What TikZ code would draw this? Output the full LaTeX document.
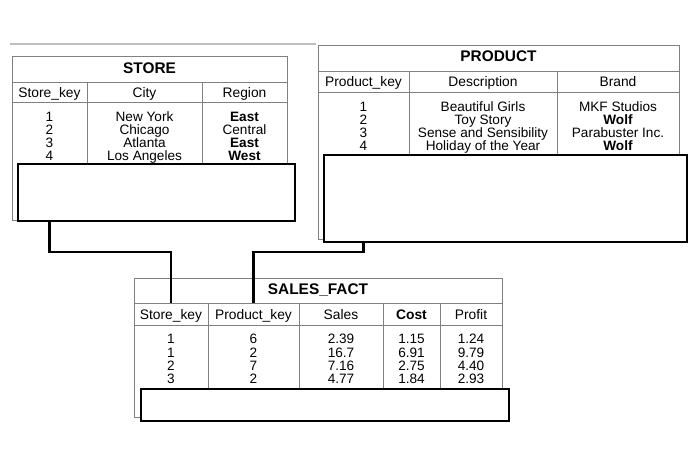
\documentclass[tikz,border=0pt]{standalone}
\usepackage{fontspec}
\setmainfont{Liberation Sans}
\usetikzlibrary{calc}

\tikzset{
  tbl/.style={draw=black!50, line width=0.9pt},
  blank/.style={draw=black, line width=1.6pt, fill=white, inner sep=0pt},
  link/.style={draw=black, line width=2.6pt},
  ttl/.style={font=\fontsize{15.4}{15.4}\selectfont\bfseries, inner sep=0pt},
  hdr/.style={font=\fontsize{13.8}{13.8}\selectfont, inner sep=0pt, text height=10pt, text depth=0pt},
  dat/.style={font=\fontsize{13.6}{13.6}\selectfont, inner sep=0pt, text height=9.8pt, text depth=2.8pt},
}

\begin{document}
\begin{tikzpicture}[x=1pt,y=-1pt]
\useasboundingbox[fill=white] (0,0) rectangle (700,453);
% page edge
\draw[black!25, line width=1.6pt] (10,44) -- (316,44);

% STORE
\draw[tbl] (12,56) rectangle (287,220);
\draw[tbl] (12,82) -- (287,82) (12,102) -- (287,102) (87,82) -- (87,220) (202,82) -- (202,220);
\node[ttl] (store) at (149.5,68) {STORE};
\node[hdr, minimum height=20pt] (ssk) at (49.5,92) {Store\_key};
\node[hdr, minimum height=20pt] (scity) at (144.5,92) {City};
\node[hdr, minimum height=20pt] (sreg) at (244.5,92) {Region};
\foreach \k/\c/\r [count=\i] in {1/New York/\textbf{East}, 2/Chicago/Central, 3/Atlanta/\textbf{East}, 4/Los Angeles/\textbf{West}}{
  \node[dat] (sk\i) at (49.5,105+13*\i) {\k};
  \node[dat] (sc\i) at (144.5,105+13*\i) {\c};
  \node[dat] (sr\i) at (244.5,105+13*\i) {\r};
}
\node[blank, anchor=north west, minimum width=277pt, minimum height=57pt] (sbox) at (17,163) {};

% PRODUCT
\draw[tbl] (318,45) rectangle (679,239);
\draw[tbl] (318,71) -- (679,71) (318,92) -- (679,92) (409,71) -- (409,239) (557,71) -- (557,239);
\node[ttl] (product) at (498.5,56) {PRODUCT};
\node[hdr, minimum height=21pt] (psk) at (363.5,81.5) {Product\_key};
\node[hdr, minimum height=21pt] (pdesc) at (483,81.5) {Description};
\node[hdr, minimum height=21pt] (pbrand) at (618,81.5) {Brand};
\foreach \k/\d/\b [count=\i] in {1/Beautiful Girls/MKF Studios, 2/Toy Story/\textbf{Wolf}, 3/Sense and Sensibility/Parabuster Inc., 4/Holiday of the Year/\textbf{Wolf}}{
  \node[dat] (pk\i) at (363.5,95+13*\i) {\k};
  \node[dat] (pd\i) at (483,95+13*\i) {\d};
  \node[dat] (pb\i) at (618,95+13*\i) {\b};
}
\node[blank, anchor=north west, minimum width=363pt, minimum height=87pt] (pbox) at (323,154) {};

% SALES_FACT
\draw[tbl] (134,278) rectangle (502,417);
\draw[tbl] (134,303) -- (502,303) (134,325) -- (502,325);
\foreach \cx in {208,299,383,440}{
  \draw[tbl] (\cx,303) -- (\cx,417);
}
\node[ttl] (sales) at (318,290) {SALES\_FACT};
\node[hdr, minimum height=22pt] (fsk) at (171,314) {Store\_key};
\node[hdr, minimum height=22pt] (fpk) at (253.5,314) {Product\_key};
\node[hdr, minimum height=22pt] (fsal) at (341,314) {Sales};
\node[hdr, minimum height=22pt] (fcost) at (411.5,314) {\textbf{Cost}};
\node[hdr, minimum height=22pt] (fprof) at (471,314) {Profit};
\foreach \s/\p/\a/\c/\f [count=\i] in {1/6/2.39/1.15/1.24, 1/2/16.7/6.91/9.79, 2/7/7.16/2.75/4.40, 3/2/4.77/1.84/2.93}{
  \node[dat] (fs\i) at (171,327+13.3*\i) {\s};
  \node[dat] (fp\i) at (253.5,327+13.3*\i) {\p};
  \node[dat] (fa\i) at (341,327+13.3*\i) {\a};
  \node[dat] (fc\i) at (411.5,327+13.3*\i) {\c};
  \node[dat] (ff\i) at (471,327+13.3*\i) {\f};
}
\node[blank, anchor=north west, minimum width=368pt, minimum height=32pt] (fbox) at (140,388) {};

% links
\coordinate (bus) at (0,252);
\draw[link] (ssk |- sbox.south) -- (ssk |- bus) -| (fsk.north);
\draw[link] (psk |- pbox.south) -- (psk |- bus) -| (fpk.north);
\end{tikzpicture}
\end{document}
